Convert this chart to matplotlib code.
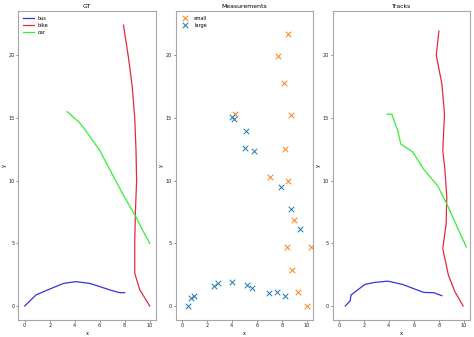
import matplotlib.pyplot as plt
import numpy as np

# ground truth paths
bus_x = [0, 0.9, 2.0, 3.1, 4.1, 5.2, 6.0, 6.8, 7.6, 8.0]
bus_y = [0, 0.88, 1.35, 1.8, 1.94, 1.8, 1.55, 1.28, 1.06, 1.06]
bike_x = [10, 9.2, 8.8, 8.8, 8.85, 8.95, 8.9, 8.8, 8.6, 8.3, 7.9]
bike_y = [0, 1.3, 2.6, 5.0, 7.4, 10.0, 12.5, 15.0, 17.5, 19.8, 22.4]
car_x = [3.4, 4.4, 4.8, 6.0, 6.8, 7.8, 8.9, 9.4, 10.0]
car_y = [15.5, 14.6, 14.1, 12.4, 10.9, 9.0, 7.1, 6.1, 5.0]

# measurements
small_x = [8.49, 7.69, 8.14, 8.75, 4.24, 8.22, 7.03, 8.49, 8.94, 8.43,
           10.34, 8.8, 9.28, 10.03]
small_y = [21.67, 19.95, 17.75, 15.24, 15.3, 12.49, 10.32, 10.0, 6.83, 4.71,
           4.71, 2.86, 1.08, 0.0]
large_x = [3.98, 4.16, 5.12, 5.09, 5.76, 7.96, 8.75, 9.42, 0.53, 0.72, 0.98,
           2.6, 2.92, 4.03, 5.25, 5.65, 6.98, 7.64, 8.22]
large_y = [15.05, 14.95, 13.99, 12.57, 12.4, 9.52, 7.75, 6.16, 0.0, 0.61,
           0.79, 1.59, 1.8, 1.88, 1.67, 1.4, 1.0, 1.08, 0.79]

# tracks
tbus_x = [0.52, 0.92, 0.97, 2.09, 2.88, 3.93, 5.1, 6.8, 7.6, 8.25]
tbus_y = [0.0, 0.42, 0.87, 1.72, 1.88, 1.98, 1.72, 1.08, 1.06, 0.82]
tbike_x = [9.95, 9.29, 8.77, 8.32, 8.59, 8.64, 8.5, 8.32, 8.46, 8.25, 7.8, 8.01]
tbike_y = [0.0, 1.14, 2.46, 4.58, 6.56, 8.68, 10.8, 12.4, 15.3, 17.7, 20.0, 21.93]
tcar_x = [3.87, 4.24, 4.71, 4.97, 5.9, 6.8, 7.9, 8.64, 10.2]
tcar_y = [15.3, 15.3, 14.0, 12.9, 12.3, 10.9, 9.6, 8.15, 4.7]

fs = 3.6
lw = 0.9
c_bus, c_bike, c_car = '#3333dd', '#e02a3e', '#33ee33'


def style(ax, title):
    ax.set_title(title, fontsize=4.4, pad=2)
    ax.set_xlabel('x', fontsize=fs, labelpad=1.5)
    ax.set_ylabel('y', fontsize=fs, labelpad=1.5)
    ax.tick_params(labelsize=fs, length=1.3, width=0.4, pad=1.2,
                   colors='0.15')
    for s in ax.spines.values():
        s.set_linewidth(0.8)
        s.set_color('0.65')
    ax.set_xticks([0, 2, 4, 6, 8, 10])
    ax.set_yticks([0, 5, 10, 15, 20])


fig, (ax1, ax2, ax3) = plt.subplots(1, 3, figsize=(4.74, 3.37), dpi=100)
ax2.sharey(ax1)
ax3.sharey(ax1)

ax1.plot(bus_x, bus_y, c=c_bus, lw=lw, label='bus')
ax1.plot(bike_x, bike_y, c=c_bike, lw=lw, label='bike')
ax1.plot(car_x, car_y, c=c_car, lw=lw, label='car')
ax1.legend(loc='upper left', fontsize=fs, handlelength=2.2,
           frameon=False, borderaxespad=0.5, labelspacing=0.4)
style(ax1, 'GT')

ax2.scatter(small_x, small_y, marker='x', s=16, lw=0.7, c='tab:orange',
            label='small')
ax2.scatter(large_x, large_y, marker='x', s=16, lw=0.7, c='tab:blue',
            label='large')
ax2.legend(loc='upper left', fontsize=fs, frameon=False, borderaxespad=0.5,
           handletextpad=0.8, labelspacing=0.4)
style(ax2, 'Measurements')

ax3.plot(tbus_x, tbus_y, c=c_bus, lw=lw)
ax3.plot(tbike_x, tbike_y, c=c_bike, lw=lw)
ax3.plot(tcar_x, tcar_y, c=c_car, lw=lw)
style(ax3, 'Tracks')

for ax in (ax1, ax2, ax3):
    ax.set_xlim(-0.5, 10.5)

plt.subplots_adjust(left=0.039, right=0.9916, bottom=0.0504, top=0.967,
                    wspace=0.142)
fig.savefig('out.png')
